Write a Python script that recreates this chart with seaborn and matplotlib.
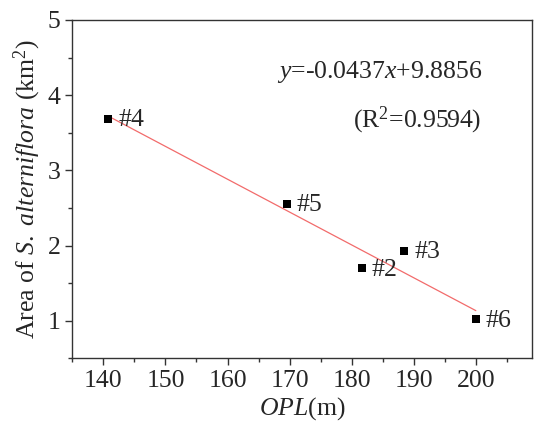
import numpy as np
import pandas as pd
import matplotlib
matplotlib.use('Agg')
import matplotlib.pyplot as plt
import seaborn as sns
from matplotlib.ticker import MultipleLocator

# data
sites = ['#4', '#5', '#2', '#3', '#6']
opl = [140.8, 169.6, 181.6, 188.5, 200.0]
area = [3.69, 2.56, 1.70, 1.93, 1.02]
df = pd.DataFrame({'site': sites, 'OPL': opl, 'area': area})

sns.set_style('ticks')
plt.rcParams['font.family'] = ['Liberation Serif', 'DejaVu Serif']
plt.rcParams['mathtext.fontset'] = 'custom'
plt.rcParams['mathtext.rm'] = 'Liberation Serif'
plt.rcParams['mathtext.it'] = 'Liberation Serif:italic'

fs = 18.5
fig = plt.figure(figsize=(5.5, 4.44), dpi=100)
ax = fig.add_axes([0.1315, 0.1926, 0.8352, 0.7624])

# fitted line over data range
sns.regplot(data=df, x='OPL', y='area', scatter=False, ci=None, truncate=True,
            ax=ax, line_kws={'color': '#f26b6b', 'lw': 0.9})
sns.scatterplot(data=df, x='OPL', y='area', marker='s', s=38, color='black',
                edgecolor='black', linewidth=0, ax=ax, zorder=3)

for _, r in df.iterrows():
    ax.annotate(r['site'], (r['OPL'], r['area']), xytext=(7, -1),
                textcoords='offset points', ha='left', va='center', fontsize=fs)

ax.text(0.894, 0.847, r'$\it{y}$=-0.0437$\it{x}$+9.8856', transform=ax.transAxes,
        ha='right', va='center', fontsize=fs)
ax.text(0.891, 0.705, '(R$^2$=0.9594)', transform=ax.transAxes,
        ha='right', va='center', fontsize=fs)

ax.set_xlim(135, 209)
ax.set_ylim(0.5, 5)
ax.xaxis.set_major_locator(MultipleLocator(10))
ax.xaxis.set_minor_locator(MultipleLocator(5))
ax.yaxis.set_major_locator(MultipleLocator(1))
ax.yaxis.set_minor_locator(MultipleLocator(0.5))
ax.tick_params(which='major', direction='out', length=5, width=1, labelsize=fs,
               color='#333333', top=False, right=False)
ax.tick_params(which='minor', direction='out', length=3, width=1, color='#333333',
               top=False, right=False)
for s in ax.spines.values():
    s.set_visible(True)
    s.set_linewidth(1)
    s.set_color('#333333')

ax.set_xlabel(r'$\it{OPL}$(m)', fontsize=fs, labelpad=2)
ax.set_ylabel(r'Area of $\it{S.}$ $\it{alterniflora}$ (km$^2$)', fontsize=fs, labelpad=3)

fig.savefig('out.png', dpi=100)
